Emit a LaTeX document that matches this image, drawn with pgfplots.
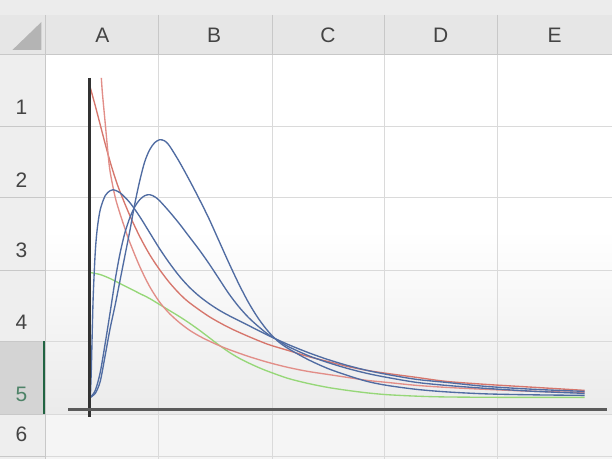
\documentclass[border=0pt]{standalone}
\usepackage{fontspec}
\setmainfont{Liberation Sans}
\usepackage{pgfplots}
\pgfplotsset{compat=1.18}
\definecolor{topbar}{RGB}{236,236,236}
\definecolor{hdr}{RGB}{230,230,230}
\definecolor{rowhdr}{RGB}{238,238,238}
\definecolor{selhdr}{RGB}{212,212,212}
\definecolor{gridc}{RGB}{218,218,218}
\definecolor{hsep}{RGB}{200,200,200}
\definecolor{tri}{RGB}{180,180,180}
\definecolor{selgreen}{RGB}{33,100,66}
\definecolor{lbl}{RGB}{68,68,68}
\definecolor{cblue}{RGB}{80,108,162}
\definecolor{cred}{RGB}{214,118,108}
\definecolor{cpink}{RGB}{226,142,136}
\definecolor{cgreen}{RGB}{150,215,120}
\definecolor{axdark}{RGB}{50,50,50}
\definecolor{axgray}{RGB}{90,90,90}
\begin{document}
\begin{tikzpicture}
\begin{scope}[x=1pt,y=-1pt]
\fill[white] (0,0) rectangle (612,460);
\fill[topbar] (0,0) rectangle (612,15);
\fill[hdr] (0,15) rectangle (612,55);
\fill[rowhdr] (0,55) rectangle (45,460);
\fill[selhdr] (0,342) rectangle (45,415);
\shade[top color=white,bottom color=black!8] (45,230) rectangle (612,415);
\fill[black!4] (45,415) rectangle (612,460);
\foreach \x in {158,272,385,498} \draw[gridc, line width=1pt] (\x,55)--(\x,460);
\foreach \y in {127,198,271,342,415} \draw[gridc, line width=1pt] (45,\y)--(612,\y);
\draw[gridc, line width=1pt] (45,457)--(612,457);
\foreach \x in {45,158,272,385,498} \draw[hsep, line width=1pt] (\x,15)--(\x,55);
\draw[hsep, line width=1pt] (0,55)--(612,55);
\foreach \y in {127,198,271,342,415,457} \draw[hsep, line width=1pt] (0,\y)--(45,\y);
\draw[hsep, line width=1pt] (45,55)--(45,460);
\draw[selgreen, line width=2pt] (44,342)--(44,415);
\fill[tri] (12,50)--(41,50)--(41,22)--cycle;
\begin{scope}[every node/.style={text=lbl, font=\fontsize{21}{21}\selectfont, inner sep=0pt}]
\node at (102,35) {A};
\node at (214,35) {B};
\node at (328,35) {C};
\node at (441,35) {D};
\node at (555,35) {E};
\node at (21,107) {1};
\node at (21,180) {2};
\node at (21,251) {3};
\node at (21,323) {4};
\node[text=selgreen!80!white] at (21,395) {5};
\node at (21,435) {6};
\end{scope}
\end{scope}
\begin{axis}[at={(45pt,-460pt)}, anchor=south west, scale only axis,
  width=567pt, height=405pt,
  xmin=-0.4545, xmax=5.2727, ymin=-0.61, ymax=3.44,
  hide axis,
  every axis plot/.append style={smooth, tension=0.5, line width=1.35pt, mark=none}]
% green
\addplot[cgreen] coordinates {(0,1.26) (0.1,1.24) (0.2,1.20) (0.3,1.15) (0.4,1.10) (0.5,1.05) (0.6,1.00) (0.7,0.94) (0.8,0.88) (0.9,0.82) (1.0,0.755) (1.1,0.685) (1.2,0.61) (1.3,0.535) (1.4,0.465) (1.5,0.405) (1.6,0.355) (1.7,0.31) (1.8,0.27) (2.0,0.20) (2.2,0.15) (2.4,0.11) (2.6,0.08) (2.8,0.055) (3.0,0.037) (3.3,0.022) (3.6,0.014) (4.2,0.01) (5.0,0.01)};
% red 1
\addplot[cred] coordinates {(0,3.11) (0.05,2.93) (0.1,2.74) (0.15,2.55) (0.2,2.37) (0.25,2.21) (0.3,2.07) (0.4,1.83) (0.5,1.62) (0.6,1.44) (0.7,1.29) (0.8,1.16) (0.9,1.05) (1.0,0.96) (1.2,0.82) (1.4,0.71) (1.6,0.62) (1.8,0.54) (2.0,0.48) (2.2,0.42) (2.4,0.37) (2.6,0.32) (2.8,0.28) (3.0,0.25) (3.3,0.21) (3.6,0.17) (4.0,0.14) (4.5,0.11) (5.0,0.08)};
% red 2
\addplot[cpink] coordinates {(0.111,3.21) (0.12,3.08) (0.13,2.97) (0.15,2.76) (0.18,2.44) (0.2,2.27) (0.25,2.02) (0.3,1.85) (0.35,1.70) (0.4,1.56) (0.5,1.32) (0.6,1.12) (0.7,0.965) (0.8,0.85) (0.9,0.76) (1.0,0.685) (1.1,0.625) (1.2,0.575) (1.3,0.53) (1.4,0.49) (1.6,0.42) (1.8,0.36) (2.0,0.31) (2.2,0.27) (2.4,0.24) (2.6,0.21) (2.8,0.18) (3.0,0.16) (3.3,0.13) (3.6,0.11) (4.0,0.09) (4.5,0.07) (5.0,0.06)};
% blue 2 (early peak)
\addplot[cblue] coordinates {(0,0.01) (0.01,0.29) (0.02,0.70) (0.03,1.05) (0.05,1.47) (0.07,1.70) (0.1,1.89) (0.15,2.03) (0.2,2.08) (0.23,2.09) (0.3,2.06) (0.4,1.96) (0.5,1.82) (0.6,1.66) (0.7,1.50) (0.8,1.355) (0.9,1.225) (1.0,1.115) (1.1,1.025) (1.2,0.95) (1.3,0.885) (1.4,0.83) (1.6,0.73) (1.8,0.63) (2.0,0.54) (2.2,0.46) (2.4,0.39) (2.6,0.33) (2.8,0.28) (3.0,0.24) (3.3,0.19) (3.6,0.16) (4.0,0.12) (4.5,0.09) (5.0,0.07)};
% blue 3 (middle peak)
\addplot[cblue] coordinates {(0,0.01) (0.05,0.08) (0.1,0.26) (0.15,0.55) (0.2,0.86) (0.25,1.18) (0.3,1.45) (0.35,1.66) (0.4,1.81) (0.45,1.92) (0.5,1.99) (0.55,2.03) (0.6,2.04) (0.65,2.02) (0.7,1.98) (0.8,1.87) (0.9,1.75) (1.0,1.62) (1.1,1.49) (1.2,1.35) (1.3,1.20) (1.4,1.05) (1.5,0.92) (1.6,0.81) (1.7,0.72) (1.8,0.64) (1.9,0.58) (2.0,0.52) (2.2,0.43) (2.4,0.36) (2.6,0.30) (2.8,0.25) (3.0,0.21) (3.3,0.16) (3.6,0.13) (4.0,0.10) (4.5,0.07) (5.0,0.05)};
% blue 1 (tall peak)
\addplot[cblue] coordinates {(0,0.01) (0.05,0.05) (0.1,0.17) (0.15,0.43) (0.2,0.70) (0.25,0.93) (0.3,1.18) (0.35,1.43) (0.4,1.68) (0.45,1.95) (0.5,2.18) (0.55,2.37) (0.6,2.49) (0.65,2.56) (0.7,2.59) (0.75,2.58) (0.8,2.53) (0.9,2.37) (1.0,2.19) (1.1,2.00) (1.2,1.80) (1.3,1.58) (1.4,1.36) (1.5,1.15) (1.6,0.96) (1.7,0.80) (1.8,0.67) (1.9,0.57) (2.0,0.50) (2.2,0.39) (2.4,0.30) (2.6,0.23) (2.8,0.17) (3.0,0.13) (3.3,0.09) (3.6,0.065) (4.0,0.045) (4.5,0.035) (5.0,0.03)};
% axis lines
\addplot[axdark, line width=2.4pt, sharp plot] coordinates {(-0.01,3.21) (-0.01,-0.19)};
\addplot[axgray, line width=2.4pt, sharp plot] coordinates {(-0.222,-0.11) (5.232,-0.11)};
\end{axis}
\end{tikzpicture}
\end{document}
